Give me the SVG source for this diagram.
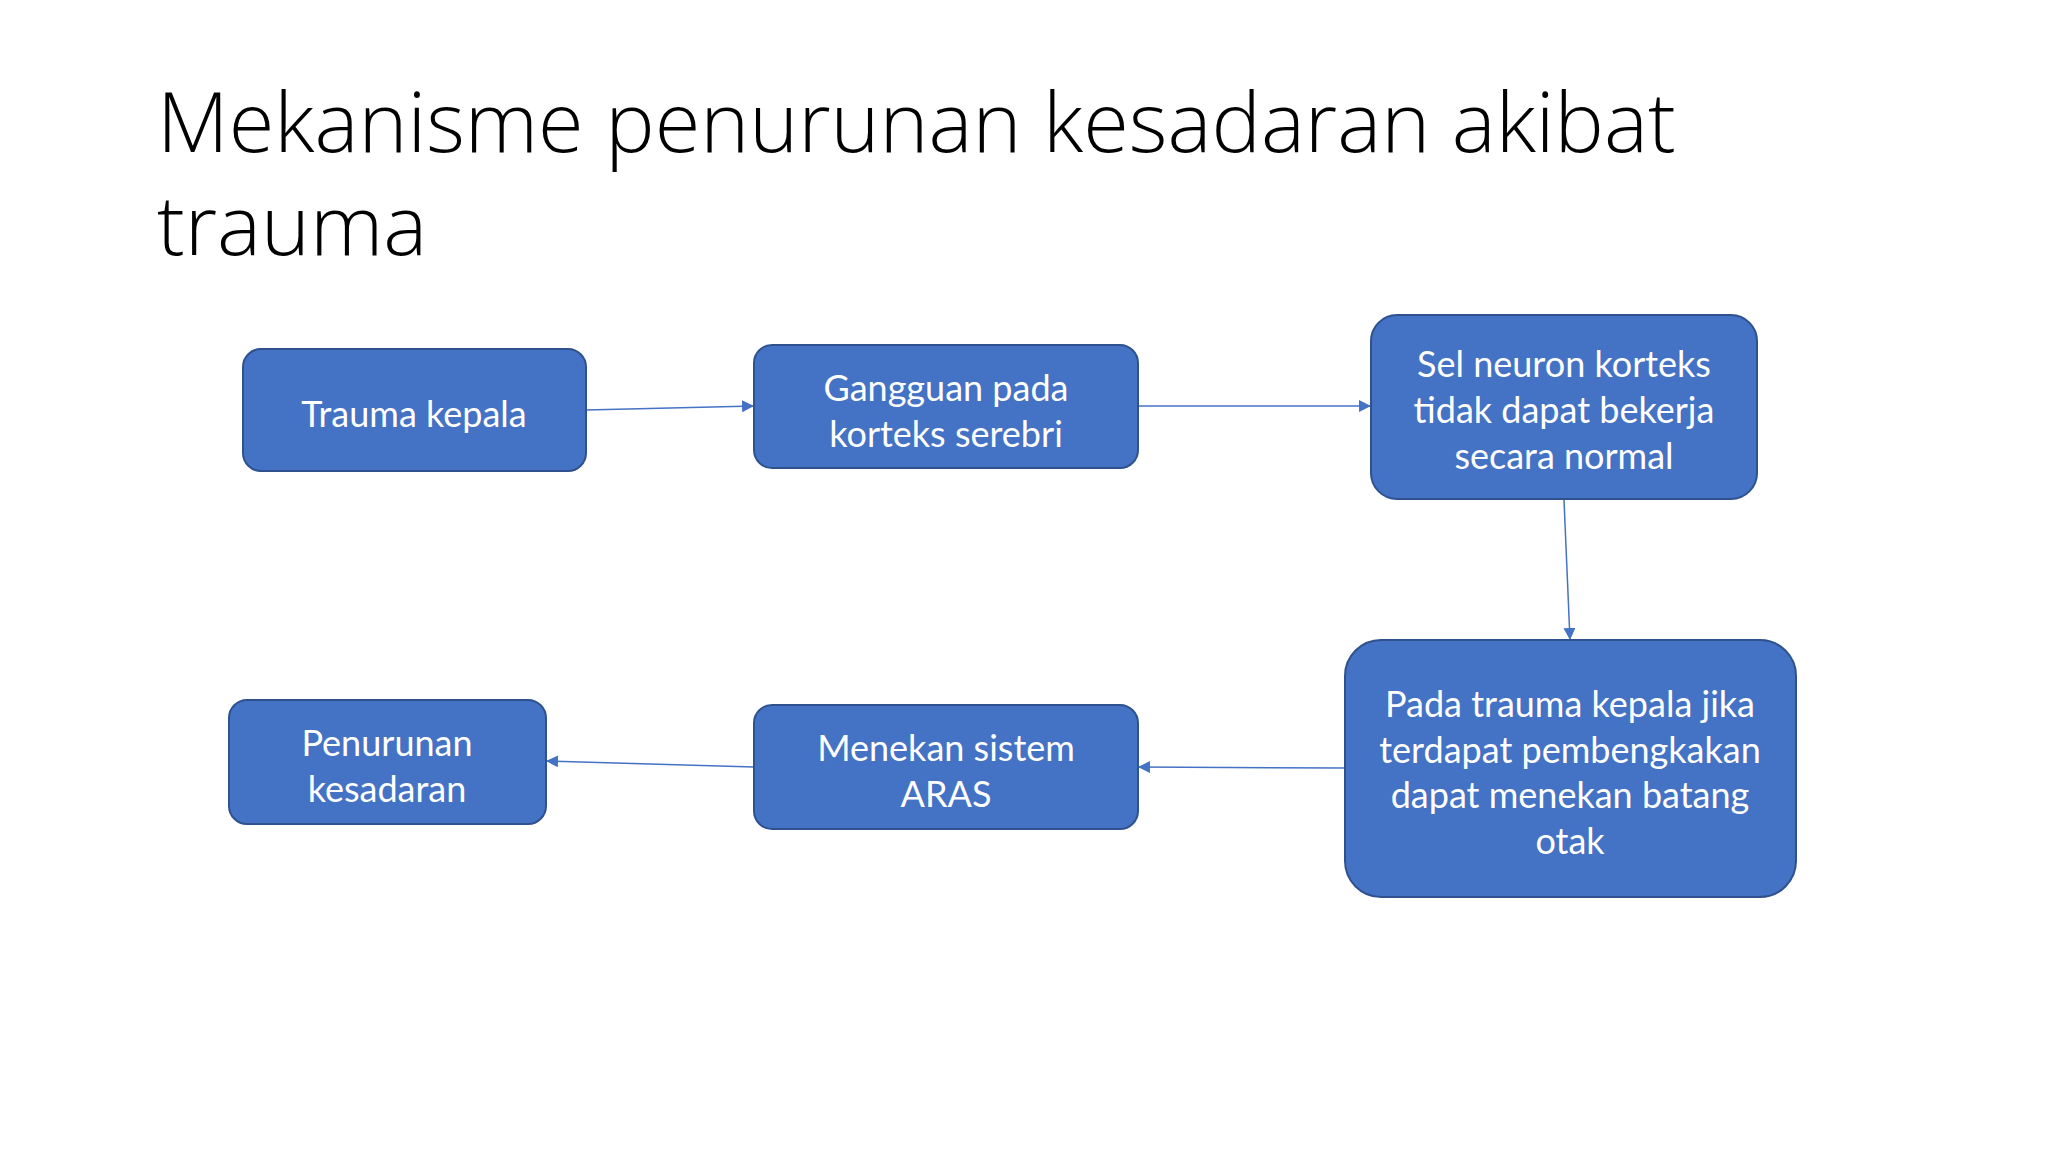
<svg xmlns="http://www.w3.org/2000/svg" width="2048" height="1152" viewBox="0 0 2048 1152">
<defs>
<style>
.n{fill:#4472C4;stroke:#2F528F;stroke-width:2}
.t{fill:#fff;font-family:Lato,"Open Sans",sans-serif;font-size:36px;text-anchor:middle;dominant-baseline:central}
.c{stroke:#4472C4;stroke-width:1.5;fill:none;marker-end:url(#a)}
.h{font-family:"Open Sans",Lato,sans-serif;font-weight:300;font-size:83px;fill:#000}
</style>
<marker id="a" viewBox="0 0 10 10" refX="10" refY="5" markerWidth="8" markerHeight="8" orient="auto"><path d="M0,0 L10,5 L0,10 z" fill="#4472C4"/></marker>
</defs>
<rect width="2048" height="1152" fill="#fff"/>
<text class="h" x="157" y="152">Mekanisme penurunan kesadaran akibat</text>
<text class="h" x="157" y="255">trauma</text>
<g id="connectors">
<line class="c" x1="586" y1="410" x2="754" y2="406"/>
<line class="c" x1="1138" y1="406" x2="1371" y2="406"/>
<line class="c" x1="1564" y1="500" x2="1570" y2="640"/>
<line class="c" x1="1345" y1="768" x2="1138" y2="767"/>
<line class="c" x1="754" y1="767" x2="546" y2="761"/>
</g>
<g id="n1"><rect class="n" x="243" y="349" width="343" height="122" rx="18"/><text class="t" x="414" y="413">Trauma kepala</text></g>
<g id="n2"><rect class="n" x="754" y="345" width="384" height="123" rx="18"/><text class="t" x="946" y="387">Gangguan pada</text><text class="t" x="946" y="433">korteks serebri</text></g>
<g id="n3"><rect class="n" x="1371" y="315" width="386" height="184" rx="26"/><text class="t" x="1564" y="363">Sel neuron korteks</text><text class="t" x="1564" y="409">tidak dapat bekerja</text><text class="t" x="1564" y="455">secara normal</text></g>
<g id="n4"><rect class="n" x="1345" y="640" width="451" height="257" rx="36"/><text class="t" x="1570" y="703">Pada trauma kepala jika</text><text class="t" x="1570" y="749">terdapat pembengkakan</text><text class="t" x="1570" y="794">dapat menekan batang</text><text class="t" x="1570" y="840">otak</text></g>
<g id="n5"><rect class="n" x="754" y="705" width="384" height="124" rx="18"/><text class="t" x="946" y="747">Menekan sistem</text><text class="t" x="946" y="793">ARAS</text></g>
<g id="n6"><rect class="n" x="229" y="700" width="317" height="124" rx="18"/><text class="t" x="387" y="742">Penurunan</text><text class="t" x="387" y="788">kesadaran</text></g>
</svg>
